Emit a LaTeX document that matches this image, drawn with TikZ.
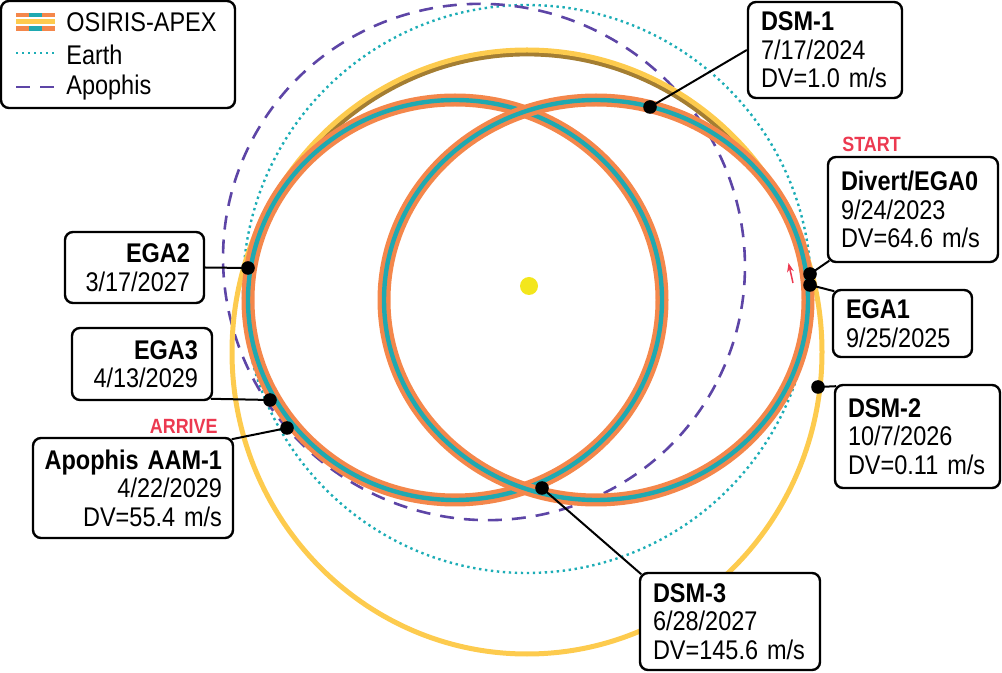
\documentclass[tikz,border=0pt]{standalone}
\usepackage{fontspec}
\setmainfont{Liberation Sans}[FakeStretch=0.87]
\usetikzlibrary{positioning,arrows,arrows.meta,calc}

\definecolor{apexOrange}{HTML}{F4874B}
\definecolor{apexTeal}{HTML}{1FA9B1}
\definecolor{apexYellow}{HTML}{FDCB4E}
\definecolor{apexBrown}{HTML}{A47E32}
\definecolor{earthTeal}{HTML}{1CADB6}
\definecolor{apophisPurple}{HTML}{5D45A6}
\definecolor{markRed}{HTML}{EC3950}
\definecolor{sunYellow}{HTML}{F3E61C}

\begin{document}
\begin{tikzpicture}[
      x=0.5pt, y=-0.5pt,
      >=stealth',
      auto
    ]

    \tikzstyle{box} = [rectangle, rounded corners=4pt, draw=black, line width=1.2pt, fill=white, inner xsep=7pt, inner ysep=0pt, font=\fontsize{13.5pt}{14.25pt}\selectfont]
    \tikzstyle{legtext} = [anchor=base west, inner sep=0pt, font=\fontsize{13.5pt}{14.25pt}\selectfont]
    \tikzstyle{tag} = [inner sep=0pt, text=markRed, font=\bfseries\fontsize{10.3pt}{11pt}\selectfont]
    \tikzstyle{leader} = [line width=1pt, black]
    \tikzstyle{event} = [circle, fill=black, inner sep=0pt, minimum size=6.8pt]
    \tikzstyle{band} = [apexOrange, line width=6.5pt]
    \tikzstyle{core} = [apexTeal, line width=2.2pt]
    \tikzstyle{earthline} = [earthTeal, line width=1.2pt, dash pattern=on 1.2pt off 1.8pt]
    \tikzstyle{apophisline} = [apophisPurple, line width=1.3pt, dash pattern=on 7pt off 5pt]

    \useasboundingbox (0,0) rectangle (1002,673);

    % Earth and Apophis
    \draw[earthline] (527,289) circle (284);
    \draw[apophisline, rotate around={-28:(484,262)}] (484,262) ellipse [x radius=262, y radius=257];

    % cruise orbit
    \draw[apexBrown, line width=2.4pt] (527,352) ++(213:291 and 298) arc [start angle=213, end angle=327, x radius=291, y radius=298];
    \draw[apexYellow, line width=2.5pt] (527,352) ellipse [x radius=295, y radius=302];

    % OSIRIS-APEX loops
    \foreach \cx/\rx in {455/207, 596/212} {
      \draw[band] (\cx,300) ellipse [x radius=\rx, y radius=200];
      \draw[core] (\cx,300) ellipse [x radius=\rx, y radius=200];
    }

    \node[circle, fill=sunYellow, minimum size=9pt, inner sep=0pt] (sun) at (529,286) {};

    \coordinate (dirTail) at (793,283);
    \coordinate (dirTip) at (788.5,263);
    \draw[-{Stealth[length=4.5pt,width=3.4pt]}, markRed, line width=0.75pt] (dirTail) -- (dirTip);

    % legend
    \node[box, minimum width=117pt, minimum height=53.5pt] (legendBox) at (118,54.5) {};
    \draw[apexOrange, line width=2.3pt] (16,15) -- (55,15);
    \draw[apexTeal, line width=2.3pt] (29,15) -- (42,15);
    \draw[apexYellow, line width=2.5pt] (16,21.8) -- (55,21.8);
    \draw[apexOrange, line width=2.3pt] (16,28.8) -- (55,28.8);
    \draw[apexTeal, line width=2.3pt] (29,28.8) -- (42,28.8);
    \draw[earthline] (16,53) -- (55,53);
    \draw[apophisline] (16,87) -- (54,87);
    \node[legtext] (legApex) at (66,31.7) {OSIRIS-APEX};
    \node[legtext] (legEarth) at (66,65) {Earth};
    \node[legtext] (legApophis) at (66,95) {Apophis};

    % events
    \node[event] (dsmOneDot) at (650,107) {};
    \node[event] (egaZeroDot) at (810,274) {};
    \node[event] (egaOneDot) at (810,285) {};
    \node[event] (dsmTwoDot) at (818,387) {};
    \node[event] (dsmThreeDot) at (542,488) {};
    \node[event] (egaTwoDot) at (248,268) {};
    \node[event] (egaThreeDot) at (270,400) {};
    \node[event] (aamOneDot) at (287,428) {};

    \node[box, text width=64pt, inner xsep=6.5pt, minimum height=48pt, align=left] (dsmOne) at (825,50) {
        \textbf{DSM-1}\\7/17/2024\\DV=1.0~m/s
        };
    \node[box, text width=72pt, inner xsep=6.5pt, minimum height=52.5pt, align=left] (egaZero) at (913,209.5) {
        \textbf{Divert/EGA0}\\9/24/2023\\DV=64.6~m/s
        };
    \node[box, text width=56.5pt, inner xsep=6.5pt, minimum height=33.5pt, align=left] (egaOne) at (902.5,323.5) {
        \textbf{EGA1}\\9/25/2025
        };
    \node[box, text width=69.5pt, inner xsep=6.5pt, minimum height=51.5pt, align=left] (dsmTwo) at (917.5,436.5) {
        \textbf{DSM-2}\\10/7/2026\\DV=0.11~m/s
        };
    \node[box, text width=77pt, inner xsep=6.5pt, minimum height=48.5pt, align=left] (dsmThree) at (730,621.5) {
        \textbf{DSM-3}\\6/28/2027\\DV=145.6~m/s
        };
    \node[box, text width=89pt, inner xsep=5.5pt, minimum height=50pt, align=right] (aamOne) at (133,488) {
        \textbf{Apophis~AAM-1}\\4/22/2029\\DV=55.4~m/s
        };
    \node[box, text width=56pt, minimum height=36pt, align=right] (egaThree) at (142,364) {
        \textbf{EGA3}\\4/13/2029
        };
    \node[box, text width=55.5pt, minimum height=35.5pt, align=right] (egaTwo) at (134.5,267.5) {
        \textbf{EGA2}\\3/17/2027
        };

    \node[tag, anchor=base west] (startTag) at (842,152) {START};
    \node[tag, anchor=base east] (arriveTag) at (218,434) {ARRIVE};

    \draw[leader] (dsmOneDot.center) -- (dsmOne.west);
    \draw[leader] (egaZeroDot.center) -- ($(egaZero.south west)+(2.4,-2.4)$);
    \draw[leader] (egaOneDot.center) -- ($(egaOne.north west)+(2.4,2.4)$);
    \draw[leader] (dsmTwoDot.center) -- ($(dsmTwo.north west)+(2.4,2.4)$);
    \draw[leader] (dsmThreeDot.center) -- ($(dsmThree.north west)+(2.4,2.4)$);
    \draw[leader] (egaTwoDot.center) -- (egaTwo.east);
    \draw[leader] (egaThreeDot.center) -- ($(egaThree.south east)+(-2.4,-2.4)$);
    \draw[leader] (aamOneDot.center) -- ($(aamOne.north east)+(-2.4,2.4)$);

\end{tikzpicture}
\end{document}
